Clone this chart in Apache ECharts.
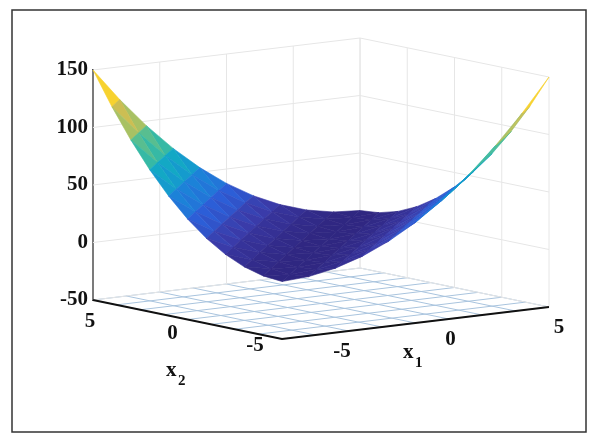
<!DOCTYPE html><html><head><meta charset="utf-8">
<script src="https://cdn.jsdelivr.net/npm/echarts@6/dist/echarts.min.js"></script>
<style>html,body{margin:0;background:#fff}#c{width:600px;height:442px}</style></head><body><div id="c"></div>
<script>
// grid axes values
var x1Vals = [-5,-4,-3,-2,-1,0,1,2,3,4,5];
var x2Vals = [-5,-4,-3,-2,-1,0,1,2,3,4,5];
// surface heights z[i][j] : i over x1, j over x2
var zRows = [
 [0,1.5,6,13.5,24,37.5,54,73.5,96,121.5,150],
 [1.5,0,1.5,6,13.5,24,37.5,54,73.5,96,121.5],
 [6,1.5,0,1.5,6,13.5,24,37.5,54,73.5,96],
 [13.5,6,1.5,0,1.5,6,13.5,24,37.5,54,73.5],
 [24,13.5,6,1.5,0,1.5,6,13.5,24,37.5,54],
 [37.5,24,13.5,6,1.5,0,1.5,6,13.5,24,37.5],
 [54,37.5,24,13.5,6,1.5,0,1.5,6,13.5,24],
 [73.5,54,37.5,24,13.5,6,1.5,0,1.5,6,13.5],
 [96,73.5,54,37.5,24,13.5,6,1.5,0,1.5,6],
 [121.5,96,73.5,54,37.5,24,13.5,6,1.5,0,1.5],
 [150,121.5,96,73.5,54,37.5,24,13.5,6,1.5,0]
];
var zTicks = [-50,0,50,100,150];
var x1Ticks = [-5,0,5];
var x2Ticks = [-5,0,5];

var L=[93,300], F=[282,339], R=[549,307], ZS=1.15;
function P(a,b,z){
  var u=(a+5)/10, v=(5-b)/10;
  return [L[0]+u*(R[0]-F[0])+v*(F[0]-L[0]), L[1]+u*(R[1]-F[1])+v*(F[1]-L[1])-(z+50)*ZS];
}
var tris=[];
for(var i=0;i<10;i++)for(var j=0;j<10;j++){
  [[[i,j],[i+1,j],[i+1,j+1]],[[i,j],[i+1,j+1],[i,j+1]]].forEach(function(t){
    var za=(zRows[t[0][0]][t[0][1]]+zRows[t[1][0]][t[1][1]]+zRows[t[2][0]][t[2][1]])/3;
    var cx=(t[0][0]+t[1][0]+t[2][0])/3-5, cy=(t[0][1]+t[1][1]+t[2][1])/3-5;
    tris.push([t,0,za,P(cx,cy,-50)[1]]);
  });
}
tris.sort(function(a,b){return a[3]-b[3];});
var lines=[];
for(var t=-5;t<=5;t+=1.25){
  lines.push({p:[P(t,5,-50),P(t,-5,-50)],c:'#a9c4de'});
  lines.push({p:[P(-5,t,-50),P(5,t,-50)],c:'#a9c4de'});
}
[-5,-2.5,0,2.5,5].forEach(function(t){
  lines.push({p:[P(t,5,-50),P(t,5,150)],c:'#e6e6e6'});
  lines.push({p:[P(5,t,-50),P(5,t,150)],c:'#e6e6e6'});
});
zTicks.forEach(function(z){
  lines.push({p:[P(-5,5,z),P(5,5,z),P(5,-5,z)],c:'#e6e6e6'});
});
lines.push({p:[P(-5,5,-50),P(-5,-5,-50),P(5,-5,-50)],c:'#111',w:2});
var labels=[];
x2Ticks.forEach(function(t){var p=P(-5,t,-50);labels.push([p[0]-15+2.4*t,p[1]+14+1.5*t,String(t)]);});
x1Ticks.forEach(function(t){var p=P(t,-5,-50);labels.push([p[0]+35-5*t,p[1]+17+0.8*t,String(t)]);});
var font='bold 21px "Liberation Serif", "DejaVu Serif", serif';
var sub='bold 15px "Liberation Serif", serif';
var chart=echarts.init(document.getElementById('c'));
chart.setOption({
  animation:false,
  graphic:[{type:'rect',shape:{x:12,y:10,width:574,height:422},style:{fill:'none',stroke:'#333',lineWidth:1.5},z:100},
   {type:'text',x:166,y:360,style:{text:'x',font:font,fill:'#111'}},
   {type:'text',x:178,y:374,style:{text:'2',font:sub,fill:'#111'}},
   {type:'text',x:403,y:342,style:{text:'x',font:font,fill:'#111'}},
   {type:'text',x:415,y:356,style:{text:'1',font:sub,fill:'#111'}}],
  grid:[{left:0,right:0,top:0,bottom:0},{left:93,top:70,width:1,height:230}],
  xAxis:[{type:'value',min:0,max:600,show:false,gridIndex:0},{type:'value',show:false,gridIndex:1,min:0,max:1}],
  yAxis:[{type:'value',min:0,max:442,inverse:true,show:false,gridIndex:0},
    {type:'value',gridIndex:1,min:-50,max:150,interval:50,axisLine:{show:true,lineStyle:{color:'#111',width:2}},
     axisTick:{show:false},splitLine:{show:false},axisLabel:{margin:5,color:'#111',fontSize:21,fontWeight:'bold',fontFamily:'"Liberation Serif", serif'}}],
  visualMap:{show:false,seriesIndex:1,dimension:2,min:0,max:150,
    inRange:{color:['#2f2680','#3a3aa8','#2c5fd8','#1a86d8','#12a8c6','#3cbca0','#95c26c','#dcbd4c','#fbd52a','#f6f55e']}},
  series:[
   {type:'custom',coordinateSystem:'cartesian2d',data:lines.map(function(l,k){return [k];}),silent:true,
    renderItem:function(params,api){var l=lines[params.dataIndex];
      return {type:'polyline',shape:{points:l.p.map(function(p){return api.coord(p);})},style:{stroke:l.c,lineWidth:l.w||1,fill:'none'}};}},
   {type:'custom',coordinateSystem:'cartesian2d',data:tris,silent:true,
    renderItem:function(params,api){var t=tris[params.dataIndex][0];
      var pts=t.map(function(q){return api.coord(P(x1Vals[q[0]],x2Vals[q[1]],zRows[q[0]][q[1]]));});
      var col=api.visual('color');
      return {type:'polygon',shape:{points:pts},style:{fill:col,stroke:col,lineWidth:0.6}};}},
   {type:'custom',coordinateSystem:'cartesian2d',data:labels,silent:true,
    renderItem:function(params,api){var d=labels[params.dataIndex];var p=api.coord([d[0],d[1]]);
      return {type:'text',x:p[0],y:p[1],style:{text:d[2],font:font,fill:'#111',align:'center',verticalAlign:'middle'}};}}
  ]
});
</script></body></html>
